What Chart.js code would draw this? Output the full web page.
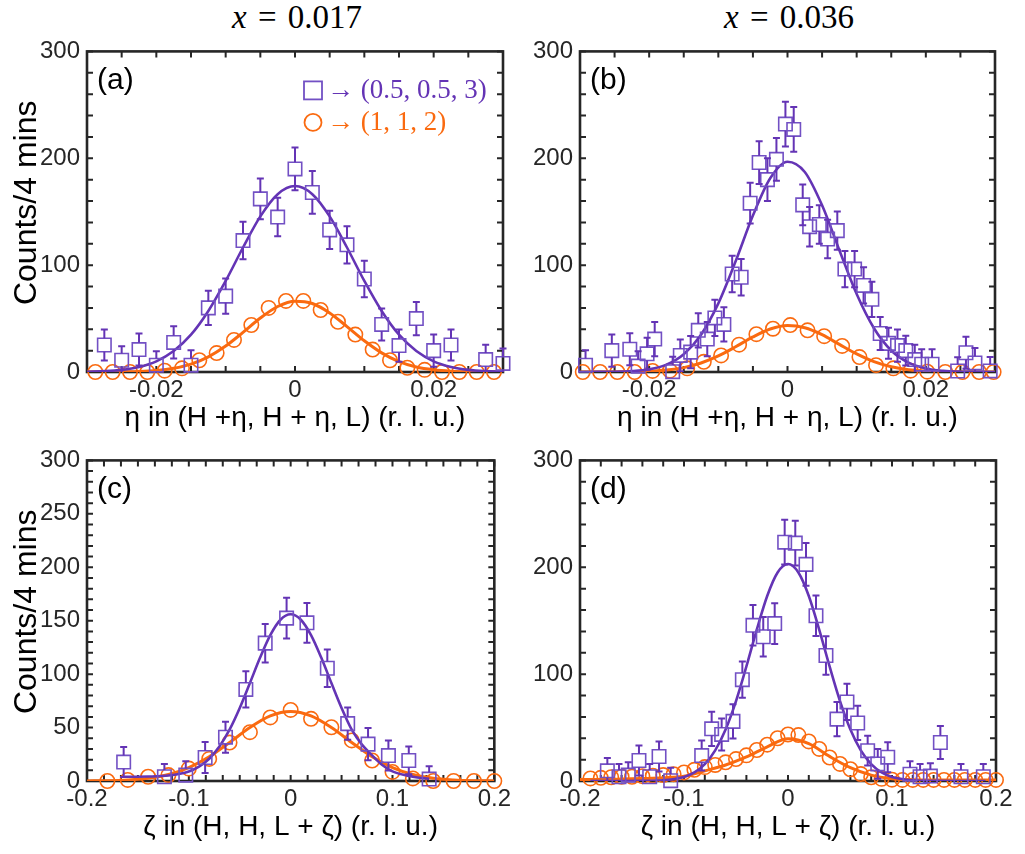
<!DOCTYPE html>
<html>
<head>
<meta charset="utf-8">
<script src="https://cdn.jsdelivr.net/npm/chart.js@4.4.1/dist/chart.umd.min.js"></script>
<style>
  body { margin: 0; background: #fff; width: 1025px; height: 854px; position: relative; overflow: hidden; }
  .panel { position: absolute; width: 515px; height: 410px; }
  .coltitle { position: absolute; top: -1px; font-family: "Liberation Serif", serif; font-size: 33px; color: #000;
              transform: translateX(-50%); white-space: nowrap; word-spacing: 3px; }
</style>
</head>
<body>
<div class="coltitle" style="left:297px"><i>x</i> = 0.017</div>
<div class="coltitle" style="left:789px"><i>x</i> = 0.036</div>
<div class="panel" style="left:0;top:30px"><canvas id="pa"></canvas></div>
<div class="panel" style="left:505px;top:30px"><canvas id="pb"></canvas></div>
<div class="panel" style="left:0;top:439px"><canvas id="pc"></canvas></div>
<div class="panel" style="left:505px;top:439px"><canvas id="pd"></canvas></div>
<script>
// ---- panel (a): x = 0.017, eta scan ----
var aSqX = [-0.0275,-0.025,-0.0225,-0.02,-0.0175,-0.015,-0.0125,-0.01,-0.0075,-0.005,-0.0025,0,0.0025,0.005,0.0075,0.01,0.0125,0.015,0.0175,0.02,0.0225,0.0275,0.03];
var aSqY = [25.3,11,21,6.4,27.7,6.4,60,71,123,162,145,190,168,133,119,87,44.5,24.7,50,20,25.3,11.6,8];
var aSqErr = [14.5,13,15,13,15,14,16,16.5,17.5,19,18,20,20,18,17.5,17,15,15,15.5,15,14.5,14,14];
var aCiX = [-0.0288,-0.0263,-0.0238,-0.0213,-0.0188,-0.0163,-0.0138,-0.0113,-0.0088,-0.0063,-0.0038,-0.0013,0.0012,0.0037,0.0062,0.0087,0.0112,0.0137,0.0162,0.0187,0.0212,0.0237,0.0262,0.0287];
var aCiY = [0,0,0,0,1.2,3.4,11,17.7,30,44,60,66.5,66.5,58,47,35,21,11,4,2,0,0,0,0];
var etaGrid = [-0.03,-0.0275,-0.025,-0.0225,-0.02,-0.0175,-0.015,-0.0125,-0.01,-0.0075,-0.005,-0.0025,0,0.0025,0.005,0.0075,0.01,0.0125,0.015,0.0175,0.02,0.0225,0.025,0.0275,0.03];
var aFitP = [0.3,0.8,2.0,4.7,10.0,19.6,34.9,57.1,85.2,116.5,145.6,166.4,174,166.4,145.6,116.5,85.2,57.1,34.9,19.6,10.0,4.7,2.0,0.8,0.3];
var aFitO = [0,0,0.2,0.5,1.4,3.5,7.4,14.2,24.3,37.1,50.5,61.3,66.3,64.1,55.3,42.5,29.2,17.9,9.7,4.7,2.1,0.8,0.3,0.1,0];

// ---- panel (b): x = 0.036, eta scan ----
var bSqX = [-0.0292,-0.0254,-0.0228,-0.0216,-0.0203,-0.0192,-0.0166,-0.0155,-0.0140,-0.0129,-0.0116,-0.0105,-0.0092,-0.0080,-0.0067,-0.0054,-0.0041,-0.0029,-0.0016,-0.0003,0.0009,0.0022,0.0032,0.0046,0.0058,0.0072,0.0083,0.0097,0.0110,0.0122,0.0134,0.0146,0.0159,0.0171,0.0184,0.0194,0.0209,0.0246,0.0258,0.0271,0.0293];
var bSqY = [6.4,20,21.3,5.5,17,30.8,0.3,15.5,18.6,39,30.8,50.6,44.5,91.7,88.7,158,196,180,199,232,227,156.4,136,138,124.4,132.3,96.3,96.3,81,68,36,26.8,24.7,20,11.6,7.3,7.3,0.9,18,8.5,1];
var bSqErr = [14,15,15,14,15,16,14,15,15,16,16,17,16,17,17,19,20,20,20,21,21,19,18.5,18,18,18,17,17,17,16.5,15.5,14.5,15,14,14,14,14,13,15,14,13];
var bCiX = [-0.0296,-0.0271,-0.0246,-0.0221,-0.0195,-0.0170,-0.0145,-0.0121,-0.0096,-0.0070,-0.0045,-0.0021,0.0004,0.0029,0.0053,0.0079,0.0104,0.0128,0.0153,0.0178,0.0202,0.0228,0.0253,0.0277,0.0298];
var bCiY = [0,0,0,0,1,1.2,3.4,9.5,15.5,25.6,35.4,40.5,43.9,39,33.5,24.4,14,6.4,3.4,1.2,0.3,0,0,0,0];
var bFitP = [0,0.1,0.2,0.8,2.5,6.9,16.7,34.9,64.2,103.6,146.4,181.3,196.8,187.2,156,114,72.9,40.9,20.1,8.7,3.3,1.1,0.3,0.1,0];
var bFitO = [0,0,0.1,0.2,0.7,1.8,4.1,8.4,15,23.6,32.8,40.2,43.5,41.4,34.9,25.8,16.9,9.7,4.9,2.2,0.9,0.3,0.1,0,0];

// ---- panel (c): x = 0.017, zeta scan ----
var cSqX = [-0.164,-0.124,-0.103,-0.084,-0.064,-0.044,-0.025,-0.004,0.016,0.036,0.056,0.076,0.096,0.116,0.136];
var cSqY = [17.7,4,5.5,22,41,85.7,129,152.4,148,105.5,53.7,34.5,23.8,19.2,1.8];
var cSqErr = [14,12,13,14.5,14.5,17,18,19,18.6,17.5,15,15,14,13,12];
var cCiX = [-0.18,-0.16,-0.14,-0.12,-0.10,-0.08,-0.06,-0.04,-0.02,0,0.02,0.04,0.06,0.08,0.10,0.12,0.14,0.16,0.18,0.20];
var cCiY = [0,1,4,5.5,11.6,20.7,36,45.7,59.5,66.5,58.2,50.3,38,19.2,8.5,2.4,0,0,0,0];
var cFitPX = [-0.164,-0.14,-0.12,-0.10,-0.09,-0.08,-0.07,-0.06,-0.05,-0.04,-0.03,-0.02,-0.01,0,0.01,0.02,0.03,0.04,0.05,0.06,0.07,0.08,0.09,0.10,0.12,0.136];
var cFitP = [4,4.2,5.1,8.9,13.4,20.8,32.2,48,68.3,91.7,115.5,136.5,150.9,156,150.9,136.5,115.5,91.7,68.3,48,34,24,15,9,4,2];
var cFitOX = [-0.2,-0.18,-0.16,-0.14,-0.12,-0.10,-0.08,-0.06,-0.04,-0.02,0,0.02,0.04,0.06,0.08,0.10,0.12,0.14,0.16,0.18,0.2];
var cFitO = [0.1,0.3,1,2.6,6.1,12.6,22.7,36,50,60.9,65,60.9,50,36,22.7,12.6,6.1,2.6,1,0.3,0.1];

// ---- panel (d): x = 0.036, zeta scan ----
var dSqX = [-0.1737,-0.1625,-0.1536,-0.1433,-0.1330,-0.1240,-0.1128,-0.0830,-0.0734,-0.0638,-0.0529,-0.0439,-0.0337,-0.0238,-0.0128,-0.0032,0.0070,0.0173,0.0269,0.0365,0.0471,0.0567,0.0670,0.0766,0.0863,0.0959,0.1173,0.1270,0.1369,0.1465,0.1663,0.1878];
var dSqY = [9.5,4,5.5,19.2,4,22.9,0.3,23.8,48.8,43.6,55.8,94.8,145.7,135,147.3,223.5,222.6,202.7,154.6,117.4,57.9,74,54.3,28.4,16,22.3,6.4,4,4.6,36,4,4];
var dSqErr = [12,12,12,14,12,14,12,14,16,15,16,17,19,18.5,19,21,21,20,19,18,16,17,16,14,14,14,12,12,12,15.5,12,12];
var dCiX = [-0.19,-0.18,-0.17,-0.16,-0.15,-0.14,-0.13,-0.12,-0.11,-0.10,-0.09,-0.08,-0.07,-0.06,-0.05,-0.04,-0.03,-0.02,-0.01,0,0.01,0.02,0.03,0.04,0.05,0.06,0.07,0.08,0.09,0.10,0.11,0.12,0.13,0.14,0.15,0.16,0.17,0.18,0.19,0.20];
var dCiY = [2.4,3,3.5,4,4,4.5,5,5.5,6.4,8,10.5,13,15,17.5,20.5,24,29,34,40,43.5,43,37,30,22,16,11,6.5,3.5,2,1.2,1,1,1,1,1,1,1,1,1,1];
var dFitPX = [-0.19,-0.16,-0.14,-0.12,-0.10,-0.09,-0.08,-0.07,-0.06,-0.05,-0.04,-0.03,-0.02,-0.01,0,0.01,0.02,0.03,0.04,0.05,0.06,0.07,0.08,0.09,0.10,0.12,0.14,0.16,0.19];
var dFitP = [0,0,0.1,0.6,3.8,8,15.8,28.7,48.2,74.8,107.2,141.7,173.1,195.1,203,195.1,173.1,141.7,107.2,74.8,48.2,28.7,15.8,8,3.8,0.6,0.1,0,0];
var dFitOX = cFitOX;
var dFitO = [1.5,1.5,1.8,2.3,3,4.5,9.5,15,22.5,32,39.5,35,23,12.5,5.5,2.2,1.2,1,1,1,1];

// tick labels
var etaTicks = [-0.02, 0, 0.02];
var etaTickText = ['-0.02', '0', '0.02'];
var zetaTicks = [-0.2, -0.1, 0, 0.1, 0.2];
var zetaTickText = ['-0.2', '-0.1', '0', '0.1', '0.2'];
var countTicks = [0, 100, 200, 300];
var countTicksC = [0, 50, 100, 150, 200, 250, 300];

var purple = '#6434b5';
var purpleMark = '#7250c4';
var orange = '#fa6a10';
var axisCol = '#262626';

function pts(xs, ys) {
    return xs.map(function (x, i) { return { x: x, y: ys[i] }; });
}

function labelFor(v, vals, txt) {
    for (var i = 0; i < vals.length; i++) {
        if (Math.abs(v - vals[i]) < 1e-7) return txt[i];
    }
    return '';
}

// inward ticks on all four sides + box + panel letter
var framePlugin = {
    id: 'frame',
    beforeDatasetsDraw: function (chart, args, opts) {
        var ctx = chart.ctx, a = chart.chartArea;
        var x = chart.scales.x, y = chart.scales.y;
        ctx.save();
        ctx.strokeStyle = axisCol;
        ctx.lineWidth = 2;
        ctx.beginPath();
        x.ticks.forEach(function (t) {
            var px = x.getPixelForValue(t.value);
            ctx.moveTo(px, a.bottom); ctx.lineTo(px, a.bottom - 6);
            ctx.moveTo(px, a.top); ctx.lineTo(px, a.top + 6);
        });
        y.ticks.forEach(function (t) {
            var py = y.getPixelForValue(t.value);
            ctx.moveTo(a.left, py); ctx.lineTo(a.left + 6, py);
            ctx.moveTo(a.right, py); ctx.lineTo(a.right - 6, py);
        });
        ctx.stroke();
        ctx.lineWidth = 2.6;
        ctx.strokeRect(a.left, a.top, a.right - a.left, a.bottom - a.top);
        ctx.fillStyle = '#000';
        ctx.font = '30px "Liberation Sans", Arial, sans-serif';
        ctx.textBaseline = 'alphabetic';
        ctx.fillText(opts.tag, a.left + 10, a.top + 38);
        ctx.restore();
    }
};

// vertical error bars with caps, kept outside the marker
var errorBarPlugin = {
    id: 'errbars',
    afterDatasetsDraw: function (chart) {
        var ctx = chart.ctx, a = chart.chartArea, y = chart.scales.y;
        ctx.save();
        ctx.beginPath();
        ctx.rect(a.left - 12, a.top, a.right - a.left + 24, a.bottom - a.top);
        ctx.clip();
        chart.data.datasets.forEach(function (ds, i) {
            if (!ds.errors) return;
            var meta = chart.getDatasetMeta(i);
            ctx.strokeStyle = purple;
            ctx.lineWidth = 2;
            meta.data.forEach(function (pt, j) {
                var v = ds.data[j].y, e = ds.errors[j];
                var top = y.getPixelForValue(v + e), bot = y.getPixelForValue(v - e);
                var half = 6.7;
                ctx.beginPath();
                if (top < pt.y - half) { ctx.moveTo(pt.x, pt.y - half); ctx.lineTo(pt.x, top); }
                if (bot > pt.y + half) { ctx.moveTo(pt.x, pt.y + half); ctx.lineTo(pt.x, bot); }
                ctx.moveTo(pt.x - 3.5, top); ctx.lineTo(pt.x + 3.5, top);
                ctx.moveTo(pt.x - 3.5, bot); ctx.lineTo(pt.x + 3.5, bot);
                ctx.stroke();
            });
        });
        ctx.restore();
    }
};

// legend inside panel (a)
var legendPlugin = {
    id: 'mylegend',
    afterDraw: function (chart, args, opts) {
        if (!opts.show) return;
        var ctx = chart.ctx, a = chart.chartArea;
        var mx = a.left + 226, y1 = a.top + 39, y2 = a.top + 71;
        ctx.save();
        ctx.lineWidth = 1.8;
        ctx.strokeStyle = purpleMark;
        ctx.strokeRect(mx - 9, y1 - 9, 18, 18);
        ctx.strokeStyle = orange;
        ctx.beginPath();
        ctx.arc(mx, y2, 8.5, 0, Math.PI * 2);
        ctx.stroke();
        ctx.font = '27px "Liberation Serif", serif';
        ctx.textBaseline = 'middle';
        ctx.fillStyle = purple;
        ctx.fillText('\u2192 (0.5, 0.5, 3)', mx + 14, y1 + 1);
        ctx.fillStyle = orange;
        ctx.fillText('\u2192 (1, 1, 2)', mx + 14, y2 + 1);
        ctx.restore();
    }
};

function makePanel(id, p) {
    return new Chart(document.getElementById(id), {
        type: 'scatter',
        data: {
            datasets: [
                { data: pts(p.sqX, p.sqY), errors: p.sqErr, pointStyle: 'rect', pointRadius: 9.5,
                  pointBorderColor: purpleMark, pointBorderWidth: 1.6, pointBackgroundColor: 'rgba(0,0,0,0)', clip: false },
                { data: pts(p.fpX, p.fpY), showLine: true, borderColor: purple, borderWidth: 2.6,
                  pointRadius: 0, cubicInterpolationMode: 'monotone' },
                { data: pts(p.ciX, p.ciY), pointStyle: 'circle', pointRadius: 7.2,
                  pointBorderColor: orange, pointBorderWidth: 1.6, pointBackgroundColor: 'rgba(0,0,0,0)', clip: false },
                { data: pts(p.foX, p.foY), showLine: true, borderColor: orange, borderWidth: 3,
                  pointRadius: 0, cubicInterpolationMode: 'monotone' }
            ]
        },
        options: {
            responsive: true,
            maintainAspectRatio: false,
            animation: false,
            events: [],
            layout: { padding: { left: 0, right: p.padRight, top: 14, bottom: 0 } },
            plugins: {
                legend: { display: false },
                tooltip: { enabled: false },
                frame: { tag: p.tag },
                mylegend: { show: !!p.legend }
            },
            scales: {
                x: {
                    type: 'linear', min: p.xMin, max: p.xMax,
                    grid: { display: false, drawTicks: false }, border: { display: false },
                    ticks: {
                        stepSize: p.xStep, autoSkip: false, maxRotation: 0, padding: 4,
                        color: axisCol, font: { family: 'Liberation Sans', size: 24 },
                        callback: function (v) { return labelFor(v, p.xLab, p.xLabText); }
                    },
                    title: { display: true, text: p.xTitle, color: '#000',
                             font: { family: 'Liberation Sans', size: 28, lineHeight: 1 },
                             padding: { top: 0, bottom: 8 } },
                    afterFit: function (s) { s.height = 68; }
                },
                y: {
                    type: 'linear', min: 0, max: 300,
                    grid: { display: false, drawTicks: false }, border: { display: false },
                    ticks: {
                        stepSize: p.yStep, autoSkip: false, padding: 7,
                        color: axisCol, font: { family: 'Liberation Sans', size: 24 },
                        callback: function (v) { return labelFor(v, p.yLab, p.yLab.map(String)); }
                    },
                    title: { display: p.yTitle, text: '  Counts/4 mins', color: '#000',
                             font: { family: 'Liberation Sans', size: 32, lineHeight: 1 },
                             padding: { top: 11, bottom: 0 } },
                    afterFit: function (s) { s.width = p.yWidth; }
                }
            }
        },
        plugins: [framePlugin, errorBarPlugin, legendPlugin]
    });
}

var etaTitle = '\u03b7 in (H +\u03b7, H + \u03b7, L) (r. l. u.)';
var zetaTitle = '\u03b6 in (H, H, L + \u03b6) (r. l. u.)';

makePanel('pa', { tag: '(a)', legend: true, sqX: aSqX, sqY: aSqY, sqErr: aSqErr, fpX: etaGrid, fpY: aFitP,
    ciX: aCiX, ciY: aCiY, foX: etaGrid, foY: aFitO, xMin: -0.03, xMax: 0.03, xStep: 0.005, yStep: 20,
    xLab: etaTicks, xLabText: etaTickText, yLab: countTicks, xTitle: etaTitle, yTitle: true, yWidth: 87, padRight: 12 });
makePanel('pb', { tag: '(b)', sqX: bSqX, sqY: bSqY, sqErr: bSqErr, fpX: etaGrid, fpY: bFitP,
    ciX: bCiX, ciY: bCiY, foX: etaGrid, foY: bFitO, xMin: -0.03, xMax: 0.03, xStep: 0.005, yStep: 20,
    xLab: etaTicks, xLabText: etaTickText, yLab: countTicks, xTitle: etaTitle, yTitle: false, yWidth: 75, padRight: 25 });
makePanel('pc', { tag: '(c)', sqX: cSqX, sqY: cSqY, sqErr: cSqErr, fpX: cFitPX, fpY: cFitP,
    ciX: cCiX, ciY: cCiY, foX: cFitOX, foY: cFitO, xMin: -0.2, xMax: 0.2, xStep: 0.1 / 6, yStep: 10,
    xLab: zetaTicks, xLabText: zetaTickText, yLab: countTicksC, xTitle: zetaTitle, yTitle: true, yWidth: 87, padRight: 12 });
makePanel('pd', { tag: '(d)', sqX: dSqX, sqY: dSqY, sqErr: dSqErr, fpX: dFitPX, fpY: dFitP,
    ciX: dCiX, ciY: dCiY, foX: dFitOX, foY: dFitO, xMin: -0.2, xMax: 0.2, xStep: 0.02, yStep: 20,
    xLab: zetaTicks, xLabText: zetaTickText, yLab: countTicks, xTitle: zetaTitle, yTitle: false, yWidth: 75, padRight: 24 });
</script>
</body>
</html>
